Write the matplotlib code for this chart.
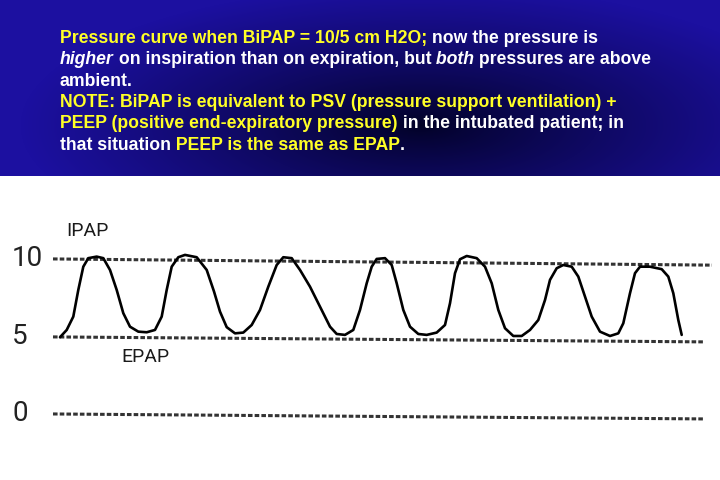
import numpy as np
import matplotlib
matplotlib.use("Agg")
import matplotlib.pyplot as plt

# slide text: one list of (text, colour, style) segments per line
YEL = "#ffff26"
WHT = "#ffffff"
text_lines = [
    [("Pressure curve when BiPAP = 10/5 cm H2O;", YEL, "normal"),
     (" now the pressure is", WHT, "normal")],
    [("higher", WHT, "italic"),
     (" on inspiration than on expiration, but", WHT, "normal"),
     (" both", WHT, "italic"),
     (" pressures are above", WHT, "normal")],
    [("ambient.", WHT, "normal")],
    [("NOTE: BiPAP is equivalent to PSV (pressure support ventilation) +", YEL, "normal")],
    [("PEEP (positive end-expiratory pressure)", YEL, "normal"),
     (" in the intubated patient; in", WHT, "normal")],
    [("that situation", WHT, "normal"),
     (" PEEP is the same as EPAP", YEL, "normal"),
     (".", WHT, "normal")],
]

# pressure trace (time in arbitrary units, cm H2O)
breath_time = [6.0, 6.67, 7.33, 7.83, 8.33, 8.83, 9.67, 10.33, 11.0, 11.67,
               12.33, 13.0, 13.83, 14.67, 15.5, 16.17, 16.67, 17.17, 17.83, 18.5,
               19.67, 20.67, 21.4, 22.0, 22.67, 23.5, 24.33, 25.17, 26.0, 26.83,
               27.67, 28.33, 29.17, 30.0, 31.0, 32.0, 33.0, 33.67, 34.5, 35.33,
               36.0, 36.67, 37.17, 37.67, 38.5, 39.17, 39.67, 40.33, 41.0, 41.83,
               42.67, 43.67, 44.5, 45.0, 45.5, 46.0, 46.67, 47.67, 48.5, 49.17,
               49.83, 50.5, 51.33, 52.17, 53.0, 53.83, 54.5, 55.0, 55.67, 56.33,
               57.17, 57.83, 58.5, 59.17, 60.0, 61.0, 61.83, 62.33, 63.0, 63.5,
               64.0, 65.0, 66.17, 66.83, 67.33, 67.83, 68.17]
breath_pressure = [4.95, 5.42, 6.28, 8.0, 9.5, 10.05, 10.15, 10.05, 9.29, 8.0,
                   6.5, 5.63, 5.31, 5.27, 5.42, 6.28, 8.0, 9.5, 10.11, 10.26,
                   10.11, 9.29, 7.9, 6.6, 5.6, 5.2, 5.25, 5.74, 6.71, 8.21,
                   9.61, 10.11, 10.05, 9.29, 8.21, 6.92, 5.63, 5.16, 5.1, 5.42,
                   6.71, 8.43, 9.5, 10.0, 10.05, 9.61, 8.43, 6.71, 5.63, 5.16,
                   5.1, 5.25, 5.74, 7.14, 9.08, 9.98, 10.19, 10.05, 9.5, 8.43,
                   6.71, 5.53, 5.03, 5.03, 5.42, 6.06, 7.35, 8.65, 9.4, 9.61,
                   9.5, 8.86, 7.57, 6.28, 5.31, 5.03, 5.2, 5.85, 7.79, 9.08,
                   9.5, 9.5, 9.34, 8.86, 7.79, 6.06, 5.1]

# dashed reference levels (drawing is slightly tilted: value at left / right end)
ref_labels = ["10", "5", "0"]
ref_left = [10.0, 4.97, 0.0]
ref_right = [9.6, 4.65, -0.32]
ref_start = 5.3
ref_end = [71.2, 70.3, 70.3]

fig = plt.figure(figsize=(7.2, 4.8), dpi=100)
fig.patch.set_facecolor("white")

# blue banner with dark radial centre
ban = fig.add_axes([0, 1 - 176 / 480, 1, 176 / 480])
yy, xx = np.mgrid[0:176, 0:720]
r = np.sqrt(((xx - 420) / 400.0) ** 2 + ((yy - 125) / 140.0) ** 2)
r = np.clip(r, 0, 1) ** 0.85
edge = np.array([0x1c, 0x10, 0xa0]) / 255.0
centre = np.array([0x02, 0x02, 0x26]) / 255.0
img = centre[None, None, :] * (1 - r[..., None]) + edge[None, None, :] * r[..., None]
ban.imshow(img, extent=(0, 720, 176, 0), aspect="auto", interpolation="bilinear")
ban.set_xlim(0, 720)
ban.set_ylim(176, 0)
ban.axis("off")

font = ["Liberation Sans", "Arial", "DejaVu Sans"]
for i, line in enumerate(text_lines):
    base = 43 + i * 21.3
    prev = None
    for seg, col, sty in line:
        if prev is None:
            prev = ban.text(60, base, seg, color=col, fontstyle=sty,
                            fontweight="bold", fontsize=12.7, family=font,
                            ha="left", va="baseline")
        else:
            prev = ban.annotate(seg, xy=(1, 0), xycoords=prev, color=col,
                                fontstyle=sty, fontweight="bold", fontsize=12.7,
                                family=font, ha="left", va="bottom")

# chart area
ax = fig.add_axes([0, 0, 1, 304 / 480])
ax.set_xlim(0, 72)
ax.set_ylim(-4.26, 15.35)
ax.axis("off")

hand = ["Roboto", "DejaVu Sans"]
for lab, y0, y1, x1 in zip(ref_labels, ref_left, ref_right, ref_end):
    ax.plot([ref_start, x1], [y0, y1], color="#333333", lw=2.2,
            linestyle=(0, (1.5, 0.7)), solid_capstyle="butt")
    ax.text(1.2, y0, lab, ha="left", va="center", fontsize=20,
            family=hand, color="#222222")

ax.plot(breath_time, breath_pressure, color="black", lw=1.9,
        solid_joinstyle="round", solid_capstyle="round")

ax.text(8.7, 11.8, "IPAP", ha="center", va="center", fontsize=14,
        family=hand, color="#1a1a1a")
ax.text(14.5, 3.7, "EPAP", ha="center", va="center", fontsize=14,
        family=hand, color="#1a1a1a")

fig.savefig("out.png", dpi=100, facecolor="white")
